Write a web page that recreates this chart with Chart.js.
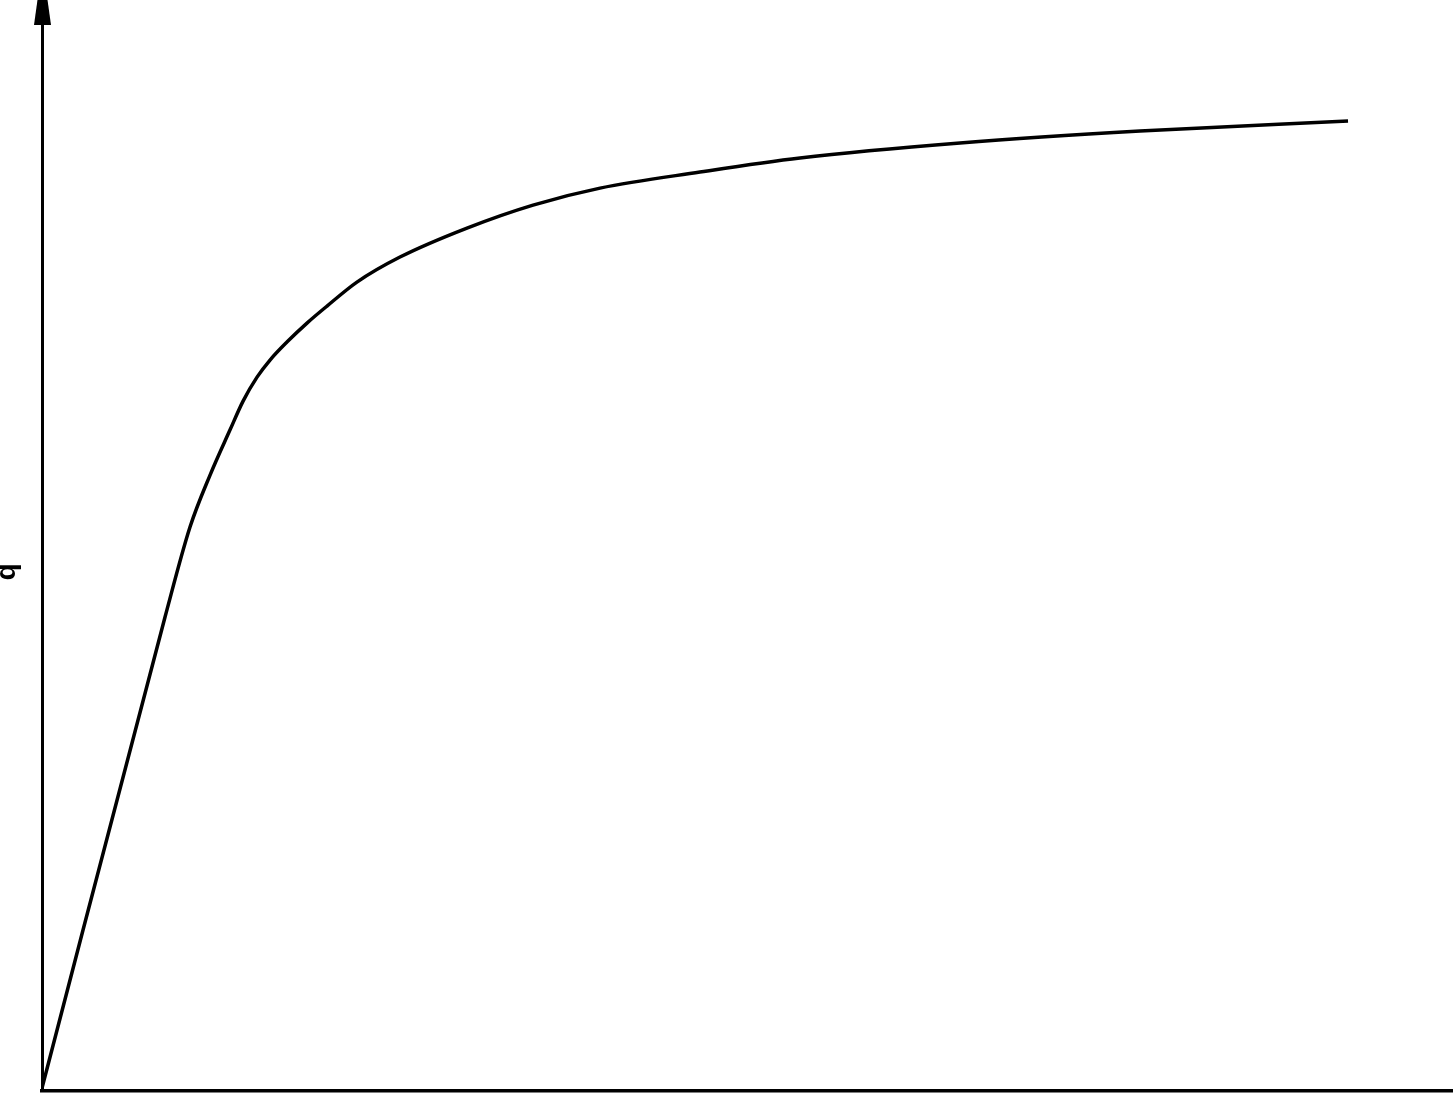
<!DOCTYPE html>
<html>
<head>
<meta charset="utf-8">
<script src="https://cdn.jsdelivr.net/npm/chart.js@4/dist/chart.umd.min.js"></script>
<style>
  html, body { margin: 0; padding: 0; background: #fff; overflow: hidden; }
  #wrap { position: relative; width: 1453px; height: 1102px; }
</style>
</head>
<body>
<div id="wrap"><canvas id="c"></canvas></div>
<script>
// Curve (arbitrary units)
const strainX = [0, 0.872, 1.049, 1.191, 1.332, 1.425, 1.524, 1.616, 1.736, 1.878, 2.020, 2.232,
  2.537, 3.012, 3.480, 3.955, 4.663, 5.372, 6.506, 7.782, 9.256];
const stressQ = [0, 4.323, 5.149, 5.626, 6.039, 6.305, 6.525, 6.682, 6.847, 7.021, 7.177, 7.397,
  7.627, 7.893, 8.104, 8.260, 8.407, 8.536, 8.673, 8.783, 8.875];
const yTitle = 'q';

const points = strainX.map((x, i) => ({ x: x, y: stressQ[i] }));

const axisArrow = {
  id: 'axisArrow',
  afterDraw(chart) {
    const ctx = chart.ctx;
    const w = 3;
    const x = Math.round(chart.chartArea.left - w / 2) + w / 2;
    const top = chart.chartArea.top;
    ctx.save();
    ctx.strokeStyle = '#000';
    ctx.lineWidth = w;
    ctx.beginPath();
    ctx.moveTo(x, top + 2);
    ctx.lineTo(x, 0);
    ctx.stroke();
    ctx.fillStyle = '#000';
    ctx.beginPath();
    ctx.moveTo(x - 8.5, 25);
    ctx.lineTo(x + 8.5, 25);
    ctx.lineTo(x, -36);
    ctx.closePath();
    ctx.fill();
    ctx.restore();
  }
};

new Chart(document.getElementById('c'), {
  type: 'line',
  data: {
    datasets: [{
      data: points,
      borderColor: '#000',
      borderWidth: 3.5,
      pointRadius: 0,
      fill: false,
      cubicInterpolationMode: 'monotone'
    }]
  },
  options: {
    responsive: true,
    maintainAspectRatio: false,
    animation: false,
    devicePixelRatio: 1,
    layout: { padding: { top: 53, right: 0, bottom: 11, left: 0 } },
    plugins: { legend: { display: false }, tooltip: { enabled: false } },
    scales: {
      x: {
        type: 'linear',
        min: 0,
        max: 10,
        ticks: { display: false },
        grid: { display: false, drawTicks: false },
        border: { display: true, color: '#000', width: 3.5 }
      },
      y: {
        type: 'linear',
        min: -0.0276,
        max: 9.5,
        ticks: { display: false },
        grid: { display: false, drawTicks: false },
        border: { display: true, color: '#000', width: 3 },
        title: {
          display: true,
          text: yTitle,
          color: '#000',
          font: { family: 'Liberation Sans, Arial, sans-serif', size: 28, weight: 'bold', lineHeight: 0.5 },
          padding: { top: 0, bottom: 28 }
        }
      }
    }
  },
  plugins: [axisArrow]
});
</script>
</body>
</html>
